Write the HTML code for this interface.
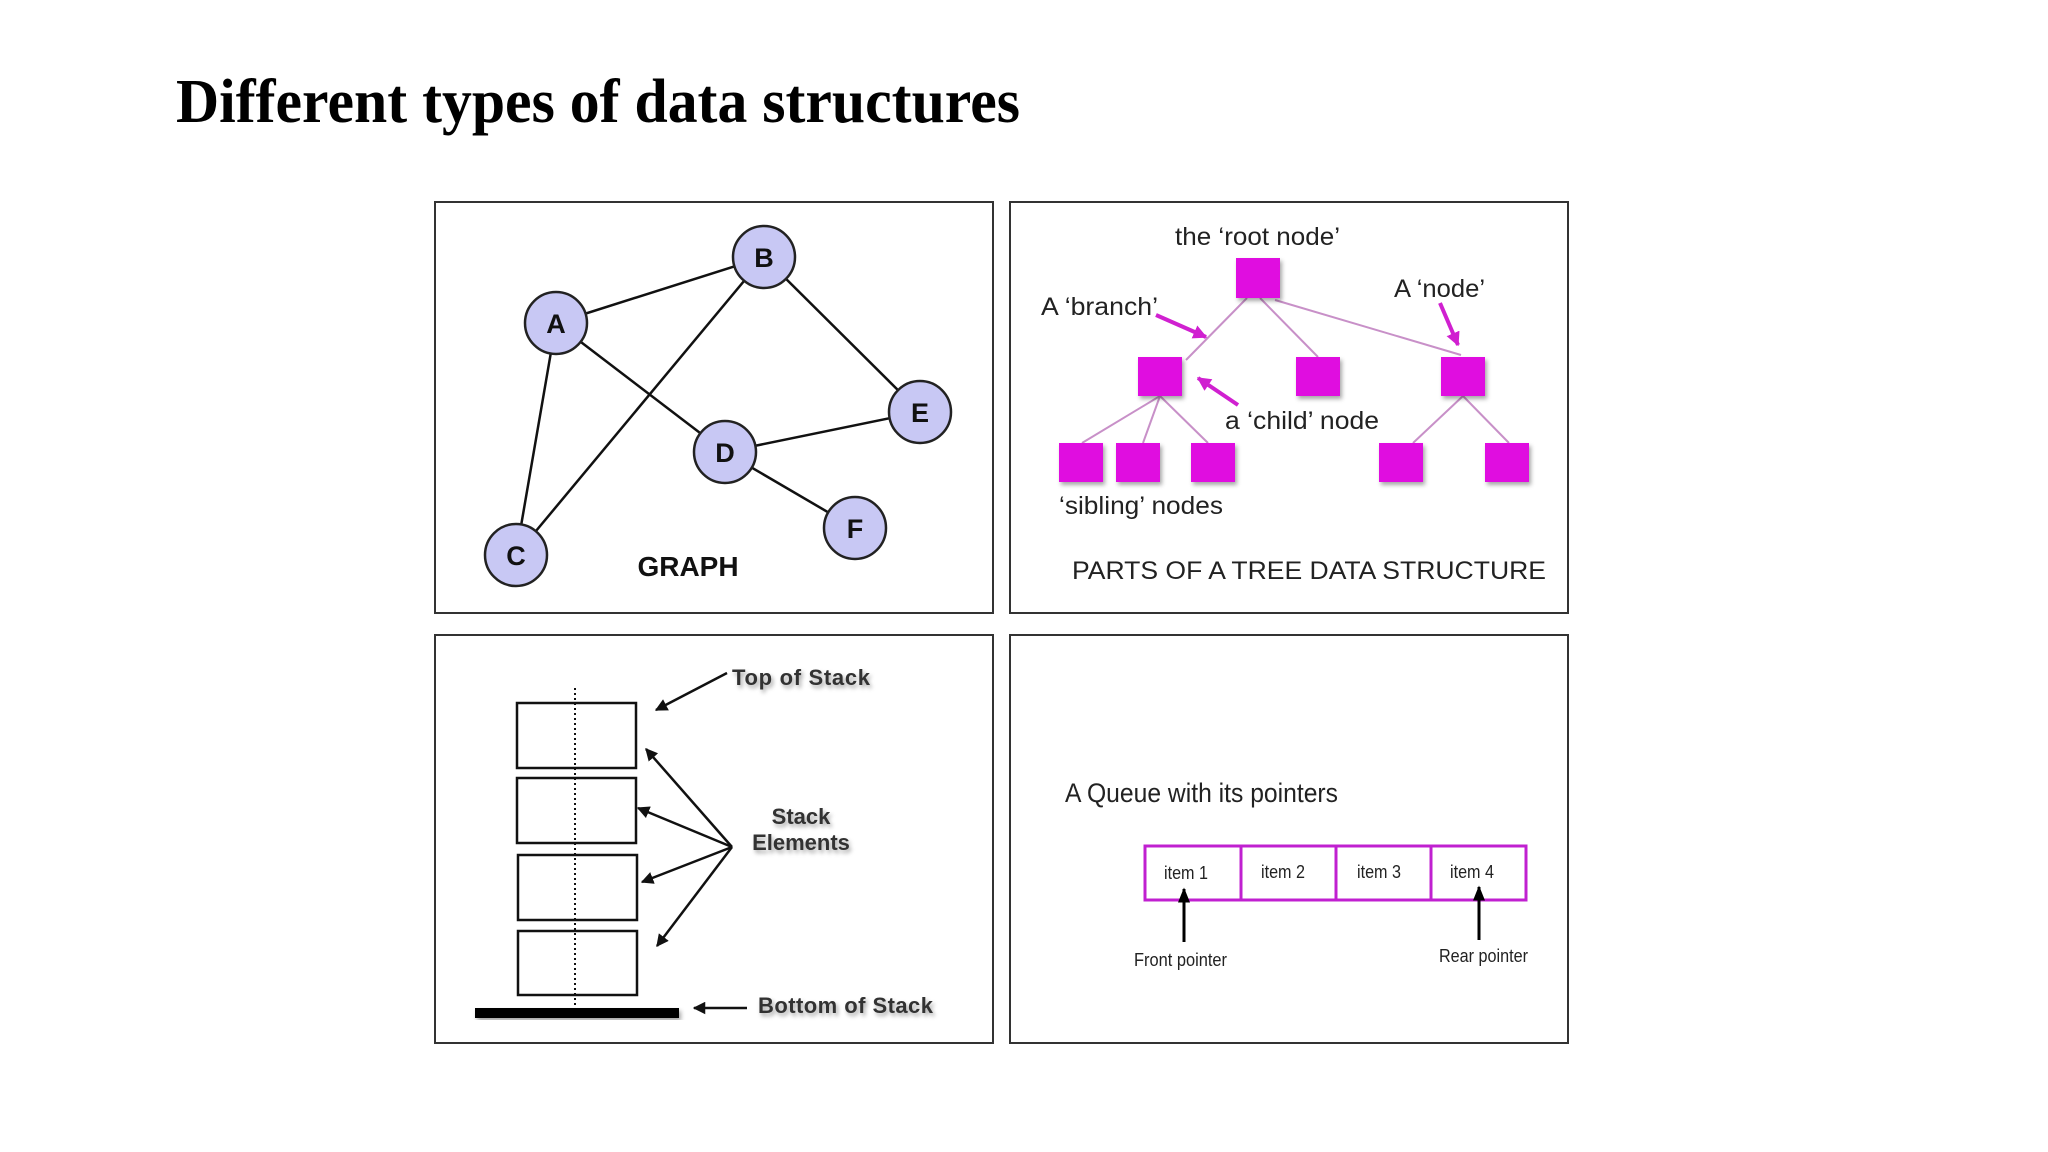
<!DOCTYPE html>
<html><head><meta charset="utf-8"><style>
html,body{margin:0;padding:0;background:#fff;width:2048px;height:1152px;overflow:hidden}
svg{display:block}
text{font-family:"Liberation Sans",Arial,sans-serif}
</style></head><body>
<svg width="2048" height="1152" viewBox="0 0 2048 1152" xmlns="http://www.w3.org/2000/svg">
<defs>
<marker id="ah" viewBox="0 0 10 10" refX="9" refY="5" markerWidth="5" markerHeight="5" orient="auto-start-reverse"><path d="M0,0 L10,5 L0,10 z" fill="#111"/></marker>
<marker id="ahp" viewBox="0 0 10 10" refX="9" refY="5" markerWidth="3.5" markerHeight="3.5" orient="auto"><path d="M0,0 L10,5 L0,10 z" fill="#d020d0"/></marker>
<marker id="ahq" viewBox="0 0 10 10" refX="9" refY="5" markerWidth="5" markerHeight="6" orient="auto"><path d="M0,1 L10,5 L0,9 z" fill="#000"/></marker>
<filter id="sh" x="-10%" y="-10%" width="130%" height="130%"><feDropShadow dx="2" dy="3" stdDeviation="2" flood-color="#000" flood-opacity="0.35"/></filter>
</defs>

<text x="176" y="122" font-weight="bold" font-size="62" textLength="844" lengthAdjust="spacingAndGlyphs" style="font-family:'Liberation Serif',serif">Different types of data structures</text>

<!-- panels -->
<rect x="435" y="202" width="558" height="411" fill="none" stroke="#333" stroke-width="2"/>
<rect x="1010" y="202" width="558" height="411" fill="none" stroke="#333" stroke-width="2"/>
<rect x="435" y="635" width="558" height="408" fill="none" stroke="#333" stroke-width="2"/>
<rect x="1010" y="635" width="558" height="408" fill="none" stroke="#333" stroke-width="2"/>

<!-- graph -->
<g stroke="#111" stroke-width="2.5">
<line x1="556" y1="323" x2="764" y2="257"/>
<line x1="556" y1="323" x2="725" y2="452"/>
<line x1="556" y1="323" x2="516" y2="555"/>
<line x1="764" y1="257" x2="516" y2="555"/>
<line x1="764" y1="257" x2="920" y2="412"/>
<line x1="725" y1="452" x2="920" y2="412"/>
<line x1="725" y1="452" x2="855" y2="528"/>
</g>
<g fill="#c8c8f4" stroke="#222" stroke-width="2.5">
<circle cx="556" cy="323" r="31"/><circle cx="764" cy="257" r="31"/><circle cx="516" cy="555" r="31"/>
<circle cx="725" cy="452" r="31"/><circle cx="920" cy="412" r="31"/><circle cx="855" cy="528" r="31"/>
</g>
<g font-weight="bold" font-size="27" fill="#111" text-anchor="middle">
<text x="556" y="333">A</text><text x="764" y="267">B</text><text x="516" y="565">C</text>
<text x="725" y="462">D</text><text x="920" y="422">E</text><text x="855" y="538">F</text>
<text x="688" y="576" font-size="28">GRAPH</text>
</g>

<!-- tree -->
<g stroke="#c890c8" stroke-width="2">
<line x1="1247" y1="298" x2="1186" y2="360"/>
<line x1="1260" y1="298" x2="1318" y2="357"/>
<line x1="1275" y1="300" x2="1461" y2="355"/>
<line x1="1160" y1="396" x2="1082" y2="443"/>
<line x1="1160" y1="396" x2="1143" y2="443"/>
<line x1="1160" y1="396" x2="1208" y2="443"/>
<line x1="1463" y1="396" x2="1413" y2="443"/>
<line x1="1463" y1="396" x2="1509" y2="443"/>
</g>
<g fill="#e010e0" filter="url(#sh)">
<rect x="1236" y="258" width="44" height="40"/>
<rect x="1138" y="357" width="44" height="39"/><rect x="1296" y="357" width="44" height="39"/><rect x="1441" y="357" width="44" height="39"/>
<rect x="1059" y="443" width="44" height="39"/><rect x="1116" y="443" width="44" height="39"/><rect x="1191" y="443" width="44" height="39"/>
<rect x="1379" y="443" width="44" height="39"/><rect x="1485" y="443" width="44" height="39"/>
</g>
<g stroke="#d020d0" stroke-width="4" marker-end="url(#ahp)">
<line x1="1156" y1="315" x2="1206" y2="337"/>
<line x1="1440" y1="303" x2="1458" y2="345"/>
<line x1="1238" y1="405" x2="1198" y2="378"/>
</g>
<g font-size="25" fill="#222">
<text x="1175" y="245" textLength="165" lengthAdjust="spacingAndGlyphs">the ‘root node’</text>
<text x="1041" y="315" textLength="117" lengthAdjust="spacingAndGlyphs">A ‘branch’</text>
<text x="1394" y="297" textLength="91" lengthAdjust="spacingAndGlyphs">A ‘node’</text>
<text x="1225" y="429" textLength="154" lengthAdjust="spacingAndGlyphs">a ‘child’ node</text>
<text x="1059" y="514" textLength="164" lengthAdjust="spacingAndGlyphs">‘sibling’ nodes</text>
<text x="1072" y="579" textLength="474" lengthAdjust="spacingAndGlyphs">PARTS OF A TREE DATA STRUCTURE</text>
</g>

<!-- stack -->
<g fill="#fff" stroke="#111" stroke-width="2.5">
<rect x="517" y="703" width="119" height="65"/>
<rect x="517" y="778" width="119" height="65"/>
<rect x="518" y="855" width="119" height="65"/>
<rect x="518" y="931" width="119" height="64"/>
</g>
<line x1="575" y1="688" x2="575" y2="1007" stroke="#111" stroke-width="2" stroke-dasharray="2,3"/>
<rect x="475" y="1008" width="204" height="10" fill="#000" filter="url(#sh)"/>
<g stroke="#111" stroke-width="2.5" marker-end="url(#ah)">
<line x1="727" y1="673" x2="656" y2="710"/>
<line x1="732" y1="847" x2="646" y2="749"/>
<line x1="732" y1="847" x2="638" y2="808"/>
<line x1="732" y1="847" x2="642" y2="882"/>
<line x1="732" y1="847" x2="657" y2="946"/>
<line x1="747" y1="1008" x2="694" y2="1008"/>
</g>
<g font-size="22" font-weight="bold" fill="#333" filter="url(#sh)">
<text x="732" y="685" textLength="138">Top of Stack</text>
<text x="801" y="824" text-anchor="middle">Stack</text>
<text x="801" y="850" text-anchor="middle">Elements</text>
<text x="758" y="1013" textLength="175">Bottom of Stack</text>
</g>

<!-- queue -->
<text x="1065" y="802" font-size="27" fill="#222" textLength="273" lengthAdjust="spacingAndGlyphs">A Queue with its pointers</text>
<rect x="1145" y="846" width="381" height="54" fill="#fff" stroke="#c020d0" stroke-width="3"/>
<g stroke="#c020d0" stroke-width="3">
<line x1="1241" y1="846" x2="1241" y2="900"/><line x1="1336" y1="846" x2="1336" y2="900"/><line x1="1431" y1="846" x2="1431" y2="900"/>
</g>
<g font-size="18" fill="#222" text-anchor="middle">
<text x="1186" y="879" textLength="44" lengthAdjust="spacingAndGlyphs">item 1</text>
<text x="1283" y="878" textLength="44" lengthAdjust="spacingAndGlyphs">item 2</text>
<text x="1379" y="878" textLength="44" lengthAdjust="spacingAndGlyphs">item 3</text>
<text x="1472" y="878" textLength="44" lengthAdjust="spacingAndGlyphs">item 4</text>
</g>
<g stroke="#000" stroke-width="3" marker-end="url(#ahq)">
<line x1="1184" y1="942" x2="1184" y2="889"/>
<line x1="1479" y1="940" x2="1479" y2="887"/>
</g>
<g font-size="18" fill="#222">
<text x="1134" y="966" textLength="93" lengthAdjust="spacingAndGlyphs">Front pointer</text>
<text x="1439" y="962" textLength="89" lengthAdjust="spacingAndGlyphs">Rear pointer</text>
</g>
</svg>
</body></html>
